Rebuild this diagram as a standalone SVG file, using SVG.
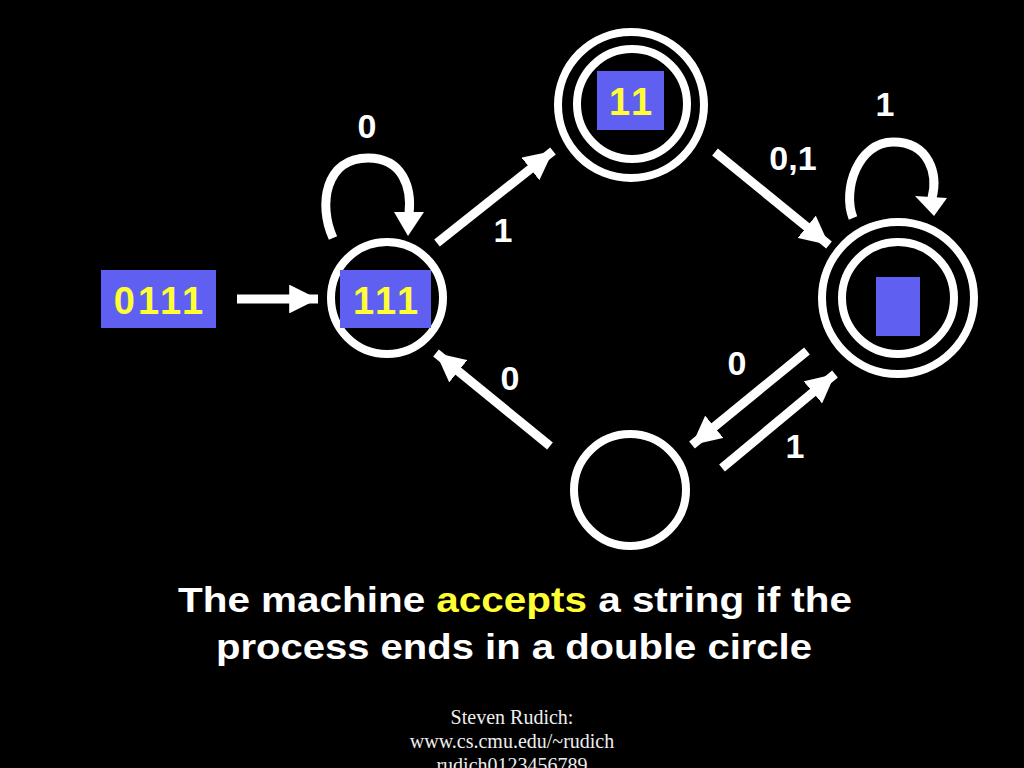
<svg xmlns="http://www.w3.org/2000/svg" width="1024" height="768" viewBox="0 0 1024 768">
<defs>
<style>
.ring{fill:none;stroke:#fff;stroke-width:8}
.box{fill:#5F5FF2}
.st{font-family:"Liberation Sans",Arial,sans-serif;font-weight:bold;font-size:38px;fill:#FFFF33;text-anchor:middle;letter-spacing:3px}
.lbl{font-family:"Liberation Sans",Arial,sans-serif;font-weight:bold;font-size:34px;fill:#fff;text-anchor:middle}
.edge{fill:none;stroke:#fff;stroke-width:9}
.cap{font-family:"Liberation Sans",Arial,sans-serif;font-weight:bold;font-size:35px;fill:#fff;text-anchor:middle}
.foot{font-family:"Liberation Serif","Times New Roman",serif;font-size:20px;fill:#eee;text-anchor:middle}
</style>
<marker id="ah" viewBox="0 0 10 10" refX="10" refY="5" markerWidth="3.2" markerHeight="3.2" markerUnits="strokeWidth" orient="auto">
<path d="M0,0 L10,5 L0,10 z" fill="#fff"/>
</marker>
</defs>
<rect width="1024" height="768" fill="#000"/>

<g id="input">
<rect class="box" x="101" y="270" width="115" height="58"/>
<text class="st" x="160" y="314">0111</text>
</g>

<g id="q111">
<circle class="ring" cx="387" cy="298" r="56"/>
<rect class="box" x="340" y="270" width="91" height="58"/>
<text class="st" x="387" y="314">111</text>
</g>

<g id="q11">
<circle class="ring" cx="631" cy="105" r="73"/>
<circle class="ring" cx="632" cy="104" r="55"/>
<rect class="box" x="597" y="71" width="67" height="59"/>
<text class="st" x="632" y="115">11</text>
</g>

<g id="qacc">
<circle class="ring" cx="898" cy="298" r="76"/>
<circle class="ring" cx="898" cy="298" r="56"/>
<rect class="box" x="876" y="277" width="44" height="59"/>
</g>

<g id="qdead">
<circle class="ring" cx="630" cy="490" r="56"/>
</g>

<g id="connectors">
<line class="edge" x1="237" y1="299" x2="318" y2="299" marker-end="url(#ah)"/>
<path class="edge" d="M333 238 C318 205 325 158 368 158 C403 158 412 188 409 214"/>
<polygon points="394,212 424,212 408,236" fill="#fff"/>
<line class="edge" x1="437" y1="243" x2="553" y2="151" marker-end="url(#ah)"/>
<line class="edge" x1="715" y1="152" x2="829" y2="245" marker-end="url(#ah)"/>
<path class="edge" d="M853 218 C842 190 858 142 893 142 C930 142 938 175 932 198"/>
<polygon points="915,196 947,198 934,216" fill="#fff"/>
<line class="edge" x1="550" y1="446" x2="436" y2="353" marker-end="url(#ah)"/>
<line class="edge" x1="807" y1="351" x2="692" y2="445" marker-end="url(#ah)"/>
<line class="edge" x1="722" y1="468" x2="835" y2="374" marker-end="url(#ah)"/>
</g>

<g id="labels">
<text class="lbl" x="367" y="138">0</text>
<text class="lbl" x="503" y="242">1</text>
<text class="lbl" x="793" y="170">0,1</text>
<text class="lbl" x="885" y="116">1</text>
<text class="lbl" x="510" y="390">0</text>
<text class="lbl" x="737" y="375">0</text>
<text class="lbl" x="795" y="458">1</text>
</g>

<g id="caption">
<text class="cap" x="515" y="612" textLength="674" lengthAdjust="spacingAndGlyphs">The machine <tspan fill="#FFFF33">accepts</tspan> a string if the</text>
<text class="cap" x="514" y="659" textLength="596" lengthAdjust="spacingAndGlyphs">process ends in a double circle</text>
</g>

<g id="footer">
<text class="foot" x="512" y="724">Steven Rudich:</text>
<text class="foot" x="512" y="748">www.cs.cmu.edu/~rudich</text>
<text class="foot" x="512" y="772">rudich0123456789</text>
</g>
</svg>
